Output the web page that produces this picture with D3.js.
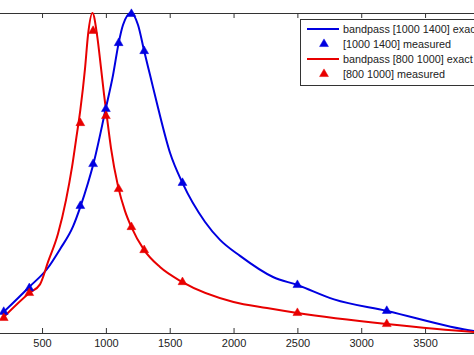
<!DOCTYPE html>
<html><head><meta charset="utf-8">
<script src="https://cdn.jsdelivr.net/npm/d3@7"></script>
<style>html,body{margin:0;padding:0;background:#fff;overflow:hidden}svg{display:block}</style>
</head><body>
<script>
const xTicks = [500, 1000, 1500, 2000, 2500, 3000, 3500];

// Exact responses (normalized magnitude)
const blueExactF = [200, 400, 539, 641, 743, 800, 860, 900, 1000, 1056, 1100, 1134, 1197, 1252, 1300, 1346, 1409, 1503, 1600, 1777, 1894, 2051, 2309, 2500, 2787, 3200, 3884, 4000];
const blueExactV = [0.066, 0.144, 0.200, 0.262, 0.333, 0.394, 0.469, 0.525, 0.703, 0.806, 0.906, 0.9625, 1.000, 0.9625, 0.881, 0.806, 0.703, 0.5625, 0.469, 0.347, 0.291, 0.241, 0.175, 0.150, 0.105, 0.069, 0.006, 0.0];
const redExactF = [200, 400, 484, 547, 625, 688, 735, 766, 800, 837, 860, 895, 931, 962, 986, 1009, 1040, 1095, 1150, 1200, 1300, 1424, 1600, 2000, 2262, 2500, 3200, 3884, 4000];
const redExactV = [0.050, 0.125, 0.152, 0.222, 0.310, 0.416, 0.519, 0.603, 0.697, 0.828, 0.931, 1.000, 0.931, 0.828, 0.744, 0.672, 0.578, 0.459, 0.381, 0.331, 0.259, 0.206, 0.159, 0.097, 0.078, 0.0625, 0.028, 0.003, 0.0];

// Measured points
const measF = [200, 400, 800, 900, 1000, 1100, 1200, 1300, 1600, 2500, 3200];
const blueMeasV = [0.066, 0.140, 0.397, 0.528, 0.700, 0.906, 0.997, 0.881, 0.469, 0.150, 0.069];
const redMeasV = [0.047, 0.125, 0.656, 0.944, 0.678, 0.450, 0.331, 0.259, 0.159, 0.0625, 0.028];

const legendLabels = ["bandpass [1000 1400] exact", "[1000 1400] measured", "bandpass [800 1000] exact", "[800 1000] measured"];

const W = 474, H = 355;
const BLUE = "#0000e0", RED = "#e80000", AX = "#333";
const FONT = "Arial, 'Liberation Sans', sans-serif";
const svg = d3.select("body").append("svg").attr("width", W).attr("height", H);

const x = d3.scaleLinear().domain([0, 4000]).range([-21.8, 488.9]);
const y = d3.scaleLinear().domain([0, 1]).range([333, 13]);

// axes box
const axBottom = svg.append("g").attr("transform", "translate(0,333)")
  .call(d3.axisBottom(x).tickValues(xTicks).tickFormat(d3.format("d")).tickSizeInner(-5).tickSizeOuter(0).tickPadding(6));
const axTop = svg.append("g").attr("transform", "translate(0,13)")
  .call(d3.axisTop(x).tickValues(xTicks).tickSizeInner(-5).tickSizeOuter(0).tickFormat(""));
[axBottom, axTop].forEach(g => {
  g.selectAll("path,line").attr("stroke", AX).attr("stroke-width", 1);
  g.selectAll("text").attr("fill", "#222").attr("font-family", FONT).attr("font-size", 11);
});

const line = d3.line().x(d => x(d[0])).y(d => y(d[1])).curve(d3.curveMonotoneX);
const series = [
  {f: blueExactF, v: blueExactV, mv: blueMeasV, c: BLUE},
  {f: redExactF, v: redExactV, mv: redMeasV, c: RED}
];
const tri = d3.symbol().type(d3.symbolTriangle).size(34);
series.forEach(s => {
  svg.append("path").datum(d3.zip(s.f, s.v)).attr("d", line)
    .attr("fill", "none").attr("stroke", s.c).attr("stroke-width", 2);
});
series.forEach(s => {
  svg.append("g").selectAll("path").data(d3.zip(measF, s.mv)).join("path")
    .attr("d", tri).attr("transform", d => `translate(${x(d[0])},${y(d[1])})`)
    .attr("fill", s.c).attr("stroke", s.c).attr("stroke-width", 0.5);
});

// legend
const lg = svg.append("g");
lg.append("rect").attr("x", 300.5).attr("y", 19.5).attr("width", 200).attr("height", 66)
  .attr("fill", "#fff").attr("stroke", AX).attr("stroke-width", 1);
const rowsY = [29, 44, 59, 74];
const rowCol = [BLUE, BLUE, RED, RED];
legendLabels.forEach((t, i) => {
  if (i % 2 === 0) {
    lg.append("line").attr("x1", 307).attr("x2", 339).attr("y1", rowsY[i]).attr("y2", rowsY[i])
      .attr("stroke", rowCol[i]).attr("stroke-width", 2);
  } else {
    lg.append("path").attr("d", tri).attr("transform", `translate(324,${rowsY[i]})`)
      .attr("fill", rowCol[i]).attr("stroke", rowCol[i]).attr("stroke-width", 0.5);
  }
  lg.append("text").attr("x", 343).attr("y", rowsY[i]).attr("dy", "0.35em")
    .attr("fill", "#222").attr("font-family", FONT).attr("font-size", 10.8)
    .text(t);
});
</script>
</body></html>
